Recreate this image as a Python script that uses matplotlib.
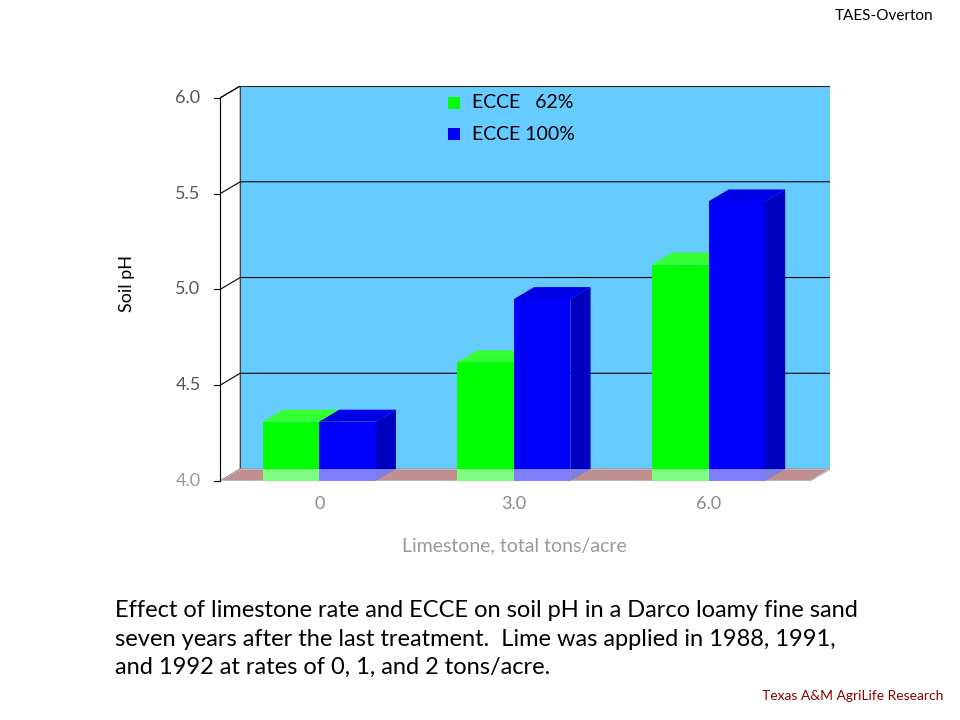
import matplotlib
matplotlib.use("Agg")
import matplotlib.pyplot as plt
from matplotlib.patches import Polygon

plt.rcParams['font.family'] = ['Lato', 'DejaVu Sans']

categories = ['0', '3.0', '6.0']
ecce62 = [4.31, 4.62, 5.13]
ecce100 = [4.31, 4.95, 5.46]
series_labels = ['ECCE   62%', 'ECCE 100%']
yticks = [4.0, 4.5, 5.0, 5.5, 6.0]

green, blue = '#00FF00', '#0000FF'
green_side, blue_side = '#00C000', '#0000C0'
green_top, blue_top = '#33FF33', '#0000E6'
dx, dy = 0.104, 0.0625
x0, x1 = -0.51, 2.52
w = 0.29

fig = plt.figure(figsize=(9.6, 7.2), dpi=100)
ax = fig.add_axes([220/960, (720-481)/720, 610/960, 395/720])
ax.set_xlim(x0, x1 + dx)
ax.set_ylim(4.0, 6.0 + dy)
ax.axis('off')

# back wall, left wall, floor
ax.add_patch(Polygon([(x0+dx, 4+dy), (x1+dx, 4+dy), (x1+dx, 6+dy), (x0+dx, 6+dy)],
                     closed=True, fc='#66CCFF', ec='#555555', lw=0.8, zorder=0))
ax.add_patch(Polygon([(x0, 4), (x0+dx, 4+dy), (x0+dx, 6+dy), (x0, 6)],
                     closed=True, fc='white', ec='#333333', lw=0.8, zorder=0))
ax.add_patch(Polygon([(x0, 4), (x1, 4), (x1+dx, 4+dy), (x0+dx, 4+dy)],
                     closed=True, fc='#812121', ec='#999999', lw=0.8, zorder=1))
for t in yticks[1:]:
    ax.plot([x0, x0+dx, x1+dx], [t, t+dy, t+dy], color='black', lw=0.8, zorder=1)

def bar3d(xl, h, front, side, top):
    ax.bar(xl, h - 4, width=w, bottom=4, align='edge', color=front, zorder=3)
    ax.add_patch(Polygon([(xl+w, 4), (xl+w+dx, 4+dy), (xl+w+dx, h+dy), (xl+w, h)],
                         closed=True, fc=side, ec='none', zorder=2))
    ax.add_patch(Polygon([(xl, h), (xl+w, h), (xl+w+dx, h+dy), (xl+dx, h+dy)],
                         closed=True, fc=top, ec='none', zorder=3))

for i in range(len(categories)):
    bar3d(i - w, ecce62[i], green, green_side, green_top)
for i in range(len(categories)):
    bar3d(i, ecce100[i], blue, blue_side, blue_top)

# translucent floor band over bars
ax.add_patch(Polygon([(x0, 4), (x1, 4), (x1+dx, 4+dy), (x0+dx, 4+dy)],
                     closed=True, fc='white', alpha=0.5, ec='none', zorder=4))

# front axis
ax.plot([x0, x0], [4, 6], color='black', lw=0.8, clip_on=False, zorder=5)
for t in yticks:
    ax.plot([x0-0.03, x0], [t, t], color='black', lw=0.8, clip_on=False)
    ax.text(x0 - 0.1, t, f'{t:.1f}', ha='right', va='center', fontsize=13,
            color='#555555' if t > 4 else '#999999')
for i, c in enumerate(categories):
    ax.text(i, 3.88, c, ha='center', va='center', fontsize=13, color='#888888')
ax.text(1.0, 3.66, 'Limestone, total tons/acre', ha='center', va='center',
        fontsize=14, color='#999999')
ax.text(x0 - 0.48, 5.03, 'Soil pH', rotation=90, ha='center', va='center', fontsize=13)

# legend
for j, (lab, col) in enumerate(zip(series_labels, [green, blue])):
    fig.patches.append(plt.Rectangle((448/960, 1 - (109 + 31*j)/720), 12/960, 12/720,
                                     transform=fig.transFigure, fc=col, ec='none'))
    fig.text(472/960, 1 - (103 + 31*j)/720, lab, fontsize=14, va='center')

fig.text(933/960, 1 - 16/720, 'TAES-Overton', ha='right', va='center', fontsize=11)
fig.text(115/960, 1 - 639/720,
         'Effect of limestone rate and ECCE on soil pH in a Darco loamy fine sand\n'
         'seven years after the last treatment.  Lime was applied in 1988, 1991,\n'
         'and 1992 at rates of 0, 1, and 2 tons/acre.',
         ha='left', va='center', fontsize=17, linespacing=1.45)
fig.text(943/960, 1 - 696/720, 'Texas A&M AgriLife Research', ha='right', va='center',
         fontsize=10, color='#8B0000')

fig.savefig('out.png', dpi=100)
